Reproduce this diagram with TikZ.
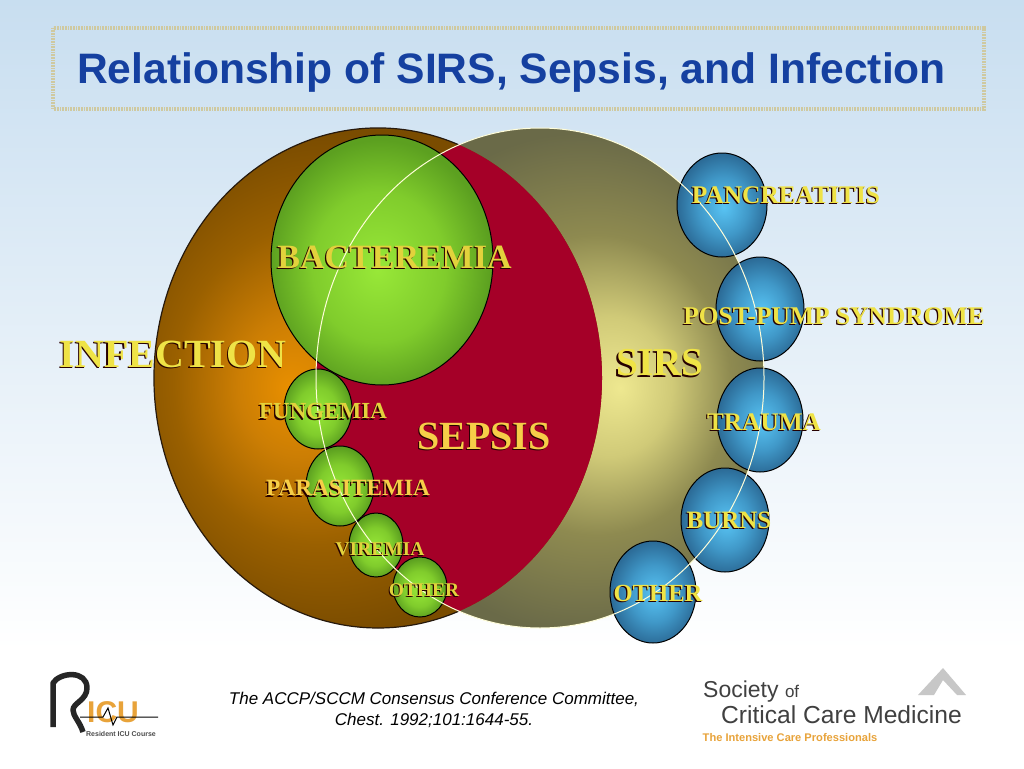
\documentclass[tikz,border=0pt]{standalone}
\usepackage{fontspec}
\setmainfont{Liberation Serif}
\setsansfont{Liberation Sans}
\usetikzlibrary{positioning}

\definecolor{bgtop}{HTML}{C8DEF0}
\definecolor{titleblue}{HTML}{1540A0}
\definecolor{boxtan}{HTML}{CFC9A0}
\definecolor{sepsisred}{HTML}{A50028}
\definecolor{labyellow}{HTML}{EFE346}
\definecolor{labgold}{HTML}{F6CE48}
\definecolor{labgreen}{HTML}{E2D23C}
\definecolor{icuorange}{HTML}{E8A33A}
\definecolor{infA}{HTML}{E88F00}
\definecolor{infB}{HTML}{CC7E04}
\definecolor{infC}{HTML}{9A6000}
\definecolor{infD}{HTML}{7A4C00}
\definecolor{sirA}{HTML}{EEE890}
\definecolor{sirB}{HTML}{D0CA78}
\definecolor{sirC}{HTML}{8E8A50}
\definecolor{sirD}{HTML}{6A6A48}
\definecolor{grnA}{HTML}{98E838}
\definecolor{grnB}{HTML}{80CC2C}
\definecolor{grnC}{HTML}{5CA020}
\definecolor{bluA}{HTML}{58C4F4}
\definecolor{bluB}{HTML}{4098C8}
\definecolor{bluC}{HTML}{2C6C98}

\pgfdeclareradialshading{infectball}{\pgfpoint{-10bp}{-1bp}}{
  color(0bp)=(infA); color(7bp)=(infB); color(16bp)=(infC); color(25bp)=(infD); color(50bp)=(infD)}
\pgfdeclareradialshading{sirsball}{\pgfpoint{9bp}{-1bp}}{
  color(0bp)=(sirA); color(7bp)=(sirB); color(15bp)=(sirC); color(25bp)=(sirD); color(50bp)=(sirD)}
\pgfdeclareradialshading{greenball}{\pgfpoint{-1bp}{-2bp}}{
  color(0bp)=(grnA); color(15bp)=(grnB); color(25bp)=(grnC); color(50bp)=(grnC)}
\pgfdeclareradialshading{blueball}{\pgfpoint{1bp}{-1bp}}{
  color(0bp)=(bluA); color(14bp)=(bluB); color(25bp)=(bluC); color(50bp)=(bluC)}

\tikzset{
  venn/.style = {line width=1pt, draw=black},
  lab/.style  = {inner sep=0pt, anchor=center},
  foot/.style = {font=\sffamily\itshape\fontsize{17}{21}\selectfont, align=center, inner sep=0pt},
}

\begin{document}
\begin{tikzpicture}[x=1pt, y=-1pt]
  \useasboundingbox (0,0) rectangle (1024,768);

  % background
  \shade[top color=bgtop, bottom color=white] (0,0) rectangle (1024,650);
  \fill[white] (0,650) rectangle (1024,768);

  % title
  \draw[boxtan, line width=4pt, dash pattern=on 1pt off .6pt] (53,28) rectangle (984,109);
  \node (title) at (511.5,72.5) [inner sep=0pt, text=titleblue, font=\sffamily\bfseries\fontsize{42.6}{50}\selectfont] {Relationship of SIRS, Sepsis, and Infection};

  % the big circles
  \def\infectpath{(378,378) ellipse [x radius=224, y radius=250]}
  \def\sirspath{(540,378) ellipse [x radius=224, y radius=250]}
  \shade[shading=sirsball] \sirspath;
  \shade[shading=infectball] \infectpath;
  \begin{scope}
    \clip \infectpath;
    \fill[sepsisred] \sirspath;
  \end{scope}
  \draw[line width=1.2pt, black!80!brown] (458.3,144.6) arc [start angle=-69, end angle=-291, x radius=224, y radius=250];

  % small circles
  \foreach \x/\y/\rx/\ry in {382/260/111/125, 318/409/34/40, 340/486/34/40, 376/545/27/32, 420/587/27/30}
    \shadedraw[venn, shading=greenball] (\x,\y) ellipse [x radius=\rx, y radius=\ry];
  \foreach \x/\y/\rx/\ry in {722/205/45/52, 760/309/44/52, 760/420/43/52, 725/520/44/52, 653/592/43/51}
    \shadedraw[venn, shading=blueball] (\x,\y) ellipse [x radius=\rx, y radius=\ry];

  % the outline of SIRS runs over them
  \draw[white!85!yellow, line width=1pt] \sirspath;

  % labels
  \foreach \nm/\x/\y/\sz/\col/\txt in {
    infection/173/354/40/labyellow/INFECTION,
    sepsis/484/436/40/labgold/SEPSIS,
    sirs/660/363/39.5/labyellow/SIRS,
    bacteremia/394.5/257/34/labgreen/BACTEREMIA,
    fungemia/323/411/23/labgreen/FUNGEMIA,
    parasitemia/348/488/23.3/labgold/PARASITEMIA,
    viremia/380/549/19.5/labgreen/VIREMIA,
    otherinf/424/590/19.4/labgreen/OTHER,
    pancreatitis/786/195/25.4/labyellow/PANCREATITIS,
    postpump/834/316/25.5/labyellow/POST-PUMP SYNDROME,
    trauma/764/422/25.3/labyellow/TRAUMA,
    burns/729/520/25/labyellow/BURNS,
    othersirs/658/593/24.6/labyellow/OTHER}
  {
    \node (\nm shadow) at (\x-1.2,\y+1.5) [lab, text=black!85!red, font=\bfseries\fontsize{\sz}{\sz}\selectfont] {\txt};
    \node (\nm) at (\x,\y) [lab, text=\col, font=\bfseries\fontsize{\sz}{\sz}\selectfont] {\txt};
  }

  % citation
  \node (cite) at (434,710) [foot] {The ACCP/SCCM Consensus Conference Committee,\\Chest. 1992;101:1644-55.};

  % left logo
  \draw[black!85, line width=5.5pt, line join=round]
    (53,727) -- (53,683) .. controls (60,672) and (87,670) .. (87,688)
    .. controls (87,700) and (73,703) .. (73,710) .. controls (73,716) and (80,722) .. (83,732);
  \node (icu) at (113,712) [inner sep=0pt, text=icuorange, font=\sffamily\bfseries\fontsize{30}{30}\selectfont] {ICU};
  \draw[black, line width=1pt] (80,717) -- (103,717) -- (108,708) -- (113,725) -- (117,717) -- (158,717);
  \node (icucourse) at (121,734) [inner sep=0pt, text=black!70, font=\sffamily\bfseries\fontsize{7}{7}\selectfont] {Resident ICU Course};

  % right logo
  \node (society) at (703,697) [anchor=base west, inner sep=0pt, text=black!75, font=\sffamily\fontsize{23}{26}\selectfont] {Society {\fontsize{17}{17}\selectfont of}};
  \node (medicine) at (841.5,723) [anchor=base, inner sep=0pt, text=black!75, font=\sffamily\fontsize{24.6}{26}\selectfont] {Critical Care Medicine};
  \node (professionals) at (790,738) [inner sep=0pt, text=icuorange, font=\sffamily\bfseries\fontsize{11.1}{12}\selectfont] {The Intensive Care Professionals};
  \fill[black!22] (943,668) -- (966,695) -- (957,695) -- (943,680) -- (934,695) -- (918,695) -- cycle;
\end{tikzpicture}
\end{document}
